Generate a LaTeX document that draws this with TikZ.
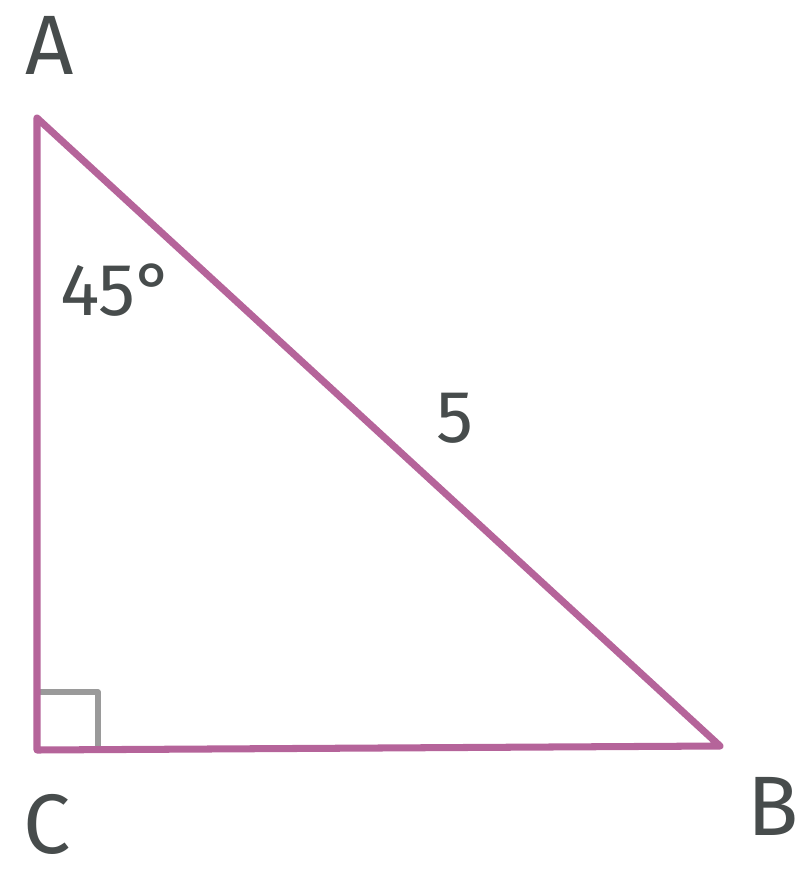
\documentclass[tikz,border=0pt]{standalone}
\usepackage{fontspec}
\setmainfont{Fira Sans}
\usetikzlibrary{calc,positioning}
\definecolor{sidePink}{HTML}{B5649A}
\definecolor{markGray}{HTML}{9A9A9A}
\definecolor{inkGray}{HTML}{474C4C}

\begin{document}
\begin{tikzpicture}[x=0.02cm,y=-0.02cm]
  \useasboundingbox (0,0) rectangle (805,877);
  \tikzset{
    side/.style={draw=sidePink,line width=4pt,line join=round,line cap=round},
    rightMark/.style={draw=markGray,line width=3pt,line join=round},
    vertexLabel/.style={text=inkGray,font=\fontsize{48}{48}\selectfont,inner sep=0pt},
    % label styles
    valueLabel/.style={text=inkGray,font=\fontsize{42}{42}\selectfont,inner sep=0pt}
  }

  % Corners
  \coordinate (A) at (37,118);
  \coordinate (C) at (37,750);
  \coordinate (B) at (720,746);
  \coordinate (sqA) at (37,692);
  \coordinate (sqB) at (98,749);

  % Right angle mark
  \draw [rightMark] (sqA) -- (sqA -| sqB) -- (sqB);

  % Triangle
  \draw [side] (A) -- (C) -- (B) -- cycle;

  % Labels
  \node [vertexLabel] (labA) at (50,45)  {A};
  \node [vertexLabel] (labC) at (47,824) {C};
  \node [vertexLabel] (labB) at (773,806) {B};
  \node [valueLabel] (angA) at (117,290) {45°};
  \node [valueLabel] (hyp) at (455,418) {5};

\end{tikzpicture}
\end{document}
